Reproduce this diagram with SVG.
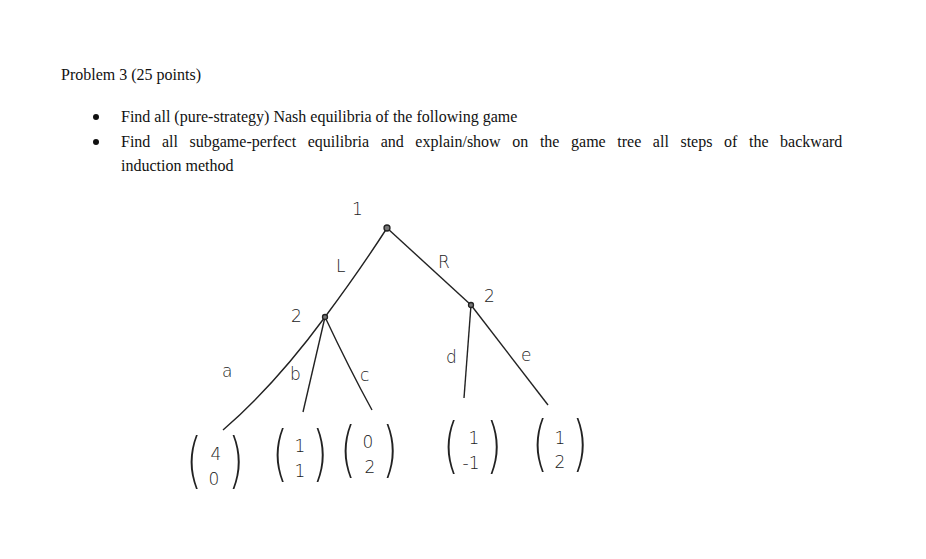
<svg xmlns="http://www.w3.org/2000/svg" width="926" height="559" viewBox="0 0 926 559">
<style>
.t{font-family:"Liberation Serif",serif;font-size:16px;fill:#111}
.h{font-family:"DejaVu Sans","Liberation Sans",sans-serif;fill:#222;font-size:17px;font-weight:300}
.p{font-family:"DejaVu Sans",sans-serif;fill:#222;font-size:40px;font-weight:300}
.e{stroke:#222;stroke-width:1.4;fill:none}
.n{fill:#777;stroke:#222;stroke-width:1.3}
</style>
<rect width="926" height="559" fill="#fff"/>
<text class="t" x="61" y="80">Problem 3 (25 points)</text>
<circle cx="96" cy="117" r="3" fill="#111"/>
<circle cx="96" cy="142" r="3" fill="#111"/>
<text class="t" x="121" y="122">Find all (pure-strategy) Nash equilibria of the following game</text>
<text class="t" x="121" y="147" word-spacing="7.6">Find all subgame-perfect equilibria and explain/show on the game tree all steps of the backward</text>
<text class="t" x="121" y="171">induction method</text>
<g id="connectors">
<path class="e" d="M387 228 Q360 270 325 317"/>
<path class="e" d="M387 228 L471 305"/>
<path class="e" d="M325 317 Q275 385 223 430"/>
<path class="e" d="M325 317 L303 412"/>
<path class="e" d="M325 317 Q350 370 372 410"/>
<path class="e" d="M471 305 L464 398"/>
<path class="e" d="M471 305 L548 405"/>
</g>
<g id="root"><circle class="n" cx="387" cy="228" r="3"/><text class="h" x="352" y="215">1</text></g>
<g id="n2L"><circle class="n" cx="325" cy="317" r="2.5"/><text class="h" x="291" y="322">2</text></g>
<g id="n2R"><circle class="n" cx="471" cy="305" r="2.5"/><text class="h" x="484" y="302">2</text></g>
<g id="labels" class="h">
<text x="336" y="272">L</text><text x="438" y="268">R</text>
<text x="222" y="377">a</text><text x="290" y="380">b</text><text x="360" y="381">c</text>
<text x="446" y="363">d</text><text x="521" y="361">e</text>
</g>
<g id="leafA" class="h" text-anchor="middle"><text class="p" transform="translate(194,481) scale(1,1.5)">(</text><text x="216" y="460">4</text><text x="214" y="485">0</text><text class="p" transform="translate(236,481) scale(1,1.5)">)</text></g>
<g id="leafB" class="h" text-anchor="middle"><text class="p" transform="translate(280,474) scale(1,1.5)">(</text><text x="300" y="452">1</text><text x="300" y="477">1</text><text class="p" transform="translate(320,474) scale(1,1.5)">)</text></g>
<g id="leafC" class="h" text-anchor="middle"><text class="p" transform="translate(348,470) scale(1,1.5)">(</text><text x="368" y="448">0</text><text x="370" y="473">2</text><text class="p" transform="translate(390,470) scale(1,1.5)">)</text></g>
<g id="leafD" class="h" text-anchor="middle"><text class="p" transform="translate(451,466) scale(1,1.5)">(</text><text x="474" y="444">1</text><text x="471" y="469">-1</text><text class="p" transform="translate(494,466) scale(1,1.5)">)</text></g>
<g id="leafE" class="h" text-anchor="middle"><text class="p" transform="translate(540,464) scale(1,1.5)">(</text><text x="560" y="444">1</text><text x="560" y="468">2</text><text class="p" transform="translate(580,464) scale(1,1.5)">)</text></g>
</svg>
